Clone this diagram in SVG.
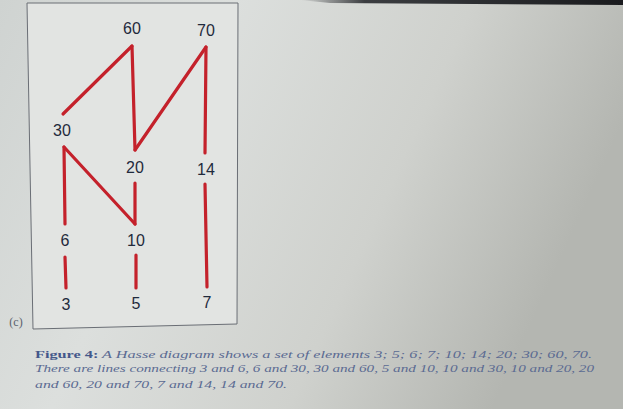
<svg xmlns="http://www.w3.org/2000/svg" width="623" height="409" viewBox="0 0 623 409">
<defs>
<linearGradient id="bg" x1="0" y1="0" x2="1" y2="0.3">
<stop offset="0" stop-color="#cfd3d1"/>
<stop offset="0.35" stop-color="#dcdfdd"/>
<stop offset="0.7" stop-color="#cfd1cd"/>
<stop offset="1" stop-color="#b4b6b1"/>
</linearGradient>
<linearGradient id="top" x1="0" y1="0" x2="1" y2="0">
<stop offset="0" stop-color="#2a2c30" stop-opacity="0"/>
<stop offset="0.2" stop-color="#2a2c30" stop-opacity="0.9"/>
<stop offset="1" stop-color="#1a1b1e"/>
</linearGradient>
<style>
.lab{font-family:"Liberation Sans",Arial,sans-serif;font-size:16px;fill:#1f2a3c;text-anchor:middle}
.edge{stroke:#c4212b;stroke-width:3.2;stroke-linecap:round;fill:none}
.cap{font-family:"Liberation Serif","Times New Roman",serif;font-size:11px;font-style:italic;fill:#5a6a92}
.capb{font-style:normal;font-weight:bold;fill:#44578a}
.tag{font-family:"Liberation Serif","Times New Roman",serif;font-size:12px;fill:#5a616e;text-anchor:middle}
</style>
</defs>
<rect width="623" height="409" fill="url(#bg)"/>
<polygon points="300,0 623,0 623,5 330,3" fill="url(#top)"/>
<polygon points="27,3 238,3 237,324 33,329" fill="#e2e4e2" stroke="#6a6e75" stroke-width="1"/>
<text class="tag" x="16" y="326">(c)</text>
<g id="connectors">
<line class="edge" x1="63" y1="114" x2="132" y2="46"/>
<line class="edge" x1="132" y1="46" x2="135" y2="150"/>
<line class="edge" x1="135" y1="150" x2="206" y2="47"/>
<line class="edge" x1="206" y1="47" x2="205" y2="153"/>
<line class="edge" x1="64" y1="147" x2="135" y2="224"/>
<line class="edge" x1="64" y1="147" x2="65" y2="224"/>
<line class="edge" x1="135" y1="183" x2="135" y2="224"/>
<line class="edge" x1="205" y1="184" x2="207" y2="287"/>
<line class="edge" x1="65" y1="257" x2="66" y2="288"/>
<line class="edge" x1="136" y1="255" x2="136" y2="288"/>
</g>
<g id="n60"><text class="lab" x="132" y="34">60</text></g>
<g id="n70"><text class="lab" x="206" y="36">70</text></g>
<g id="n30"><text class="lab" x="62" y="136">30</text></g>
<g id="n20"><text class="lab" x="135" y="173">20</text></g>
<g id="n14"><text class="lab" x="206" y="175">14</text></g>
<g id="n6"><text class="lab" x="65" y="246">6</text></g>
<g id="n10"><text class="lab" x="136" y="246">10</text></g>
<g id="n3"><text class="lab" x="66" y="310">3</text></g>
<g id="n5"><text class="lab" x="136" y="309">5</text></g>
<g id="n7"><text class="lab" x="207" y="308">7</text></g>
<g id="caption">
<text class="cap" x="35" y="358" textLength="557" lengthAdjust="spacingAndGlyphs"><tspan class="capb">Figure 4:</tspan> A Hasse diagram shows a set of elements 3; 5; 6; 7; 10; 14; 20; 30; 60, 70.</text>
<text class="cap" x="35" y="372" textLength="559" lengthAdjust="spacingAndGlyphs">There are lines connecting 3 and 6, 6 and 30, 30 and 60, 5 and 10, 10 and 30, 10 and 20, 20</text>
<text class="cap" x="35" y="388" textLength="252" lengthAdjust="spacingAndGlyphs">and 60, 20 and 70, 7 and 14, 14 and 70.</text>
</g>
</svg>
